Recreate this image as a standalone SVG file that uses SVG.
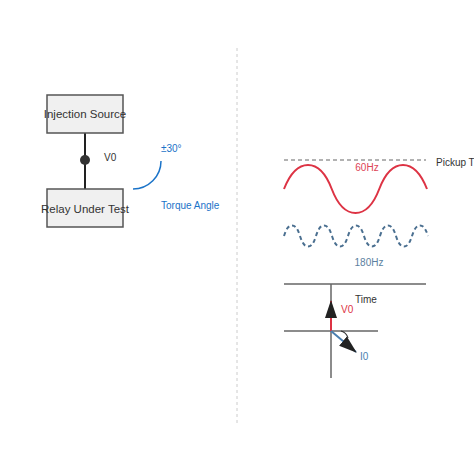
<svg xmlns="http://www.w3.org/2000/svg" width="474" height="474" viewBox="0 0 474 474">
<defs>
<style>
text{font-family:"Liberation Sans",Arial,sans-serif;}
.box{fill:#f0f0f0;stroke:#555;stroke-width:1.5;}
.lbl{font-size:11.5px;fill:#333;text-anchor:middle;}
.sm{font-size:10px;}
.ax{stroke:#666;stroke-width:1.5;fill:none;}
</style>
<marker id="ahb" markerWidth="18" markerHeight="12" refX="17" refY="6" orient="auto" markerUnits="userSpaceOnUse" viewBox="0 0 18 12">
<path d="M0,0 L18,6 L0,12 Z" fill="#222"/>
</marker>
</defs>
<rect width="474" height="474" fill="#fff"/>
<line x1="237" y1="48" x2="237" y2="426" stroke="#ccc" stroke-width="1" stroke-dasharray="3,3"/>
<g id="connectors">
<line x1="85" y1="133" x2="85" y2="189" stroke="#222" stroke-width="2"/>
<circle cx="85" cy="160" r="5" fill="#333"/>
<text x="104" y="161" class="sm" fill="#333">V0</text>
</g>
<g id="injection-source">
<rect x="47" y="95" width="76" height="38" class="box"/>
<text x="85" y="118" class="lbl">Injection Source</text>
</g>
<g id="relay-under-test">
<rect x="47" y="189" width="76" height="38" class="box"/>
<text x="85" y="213" class="lbl">Relay Under Test</text>
</g>
<g id="torque-angle">
<path d="M133,189 A28,28 0 0 0 161,161" fill="none" stroke="#1a73c8" stroke-width="1.5"/>
<text x="161" y="152" class="sm" fill="#1a73c8">±30°</text>
<text x="161" y="209" class="sm" fill="#1a73c8">Torque Angle</text>
</g>
<g id="waveforms">
<line x1="284" y1="160" x2="426" y2="160" stroke="#666" stroke-width="1.2" stroke-dasharray="4,3"/>
<text x="436" y="166" class="sm" fill="#333">Pickup Threshold</text>
<path d="M284,189 C291.5,170 300.5,165 308,165 C315.5,165 324.5,170 331.75,189 C339,208 348,213 355.5,213 C363,213 372,208 379.25,189 C386.5,170 395.5,165 403,165 C410.5,165 419.5,170 427,189" fill="none" stroke="#dd3344" stroke-width="2"/>
<text x="367" y="171" class="sm" fill="#dd4455" text-anchor="middle">60Hz</text>
<path d="M284,236 C286.5,228 289,225.5 292,225.5 C295,225.5 297.5,228 300,236 C302.5,244 305,246.5 308,246.5 C311,246.5 313.5,244 316,236 C318.5,228 321,225.5 324,225.5 C327,225.5 329.5,228 332,236 C334.5,244 337,246.5 340,246.5 C343,246.5 345.5,244 348,236 C350.5,228 353,225.5 356,225.5 C359,225.5 361.5,228 364,236 C366.5,244 369,246.5 372,246.5 C375,246.5 377.5,244 380,236 C382.5,228 385,225.5 388,225.5 C391,225.5 393.5,228 396,236 C398.5,244 401,246.5 404,246.5 C407,246.5 409.5,244 412,236 C414.5,228 417,225.5 420,225.5 C423,225.5 425.5,228 428,236" fill="none" stroke="#4a6f90" stroke-width="2" stroke-dasharray="4,3"/>
<text x="369" y="266" class="sm" fill="#5b7fa0" text-anchor="middle">180Hz</text>
</g>
<g id="phasor">
<line x1="284" y1="284" x2="426" y2="284" class="ax"/>
<line x1="331" y1="284" x2="331" y2="378" class="ax"/>
<line x1="284" y1="331" x2="378" y2="331" class="ax"/>
<line x1="331" y1="331" x2="331" y2="301" stroke="#dd3344" stroke-width="2" marker-end="url(#ahb)"/>
<line x1="331" y1="331" x2="356" y2="352" stroke="#4a7fb0" stroke-width="2" marker-end="url(#ahb)"/>
<path d="M341,331 A10,10 0 0 1 348,338" fill="none" stroke="#333" stroke-width="1.2"/>
<text x="341" y="313" class="sm" fill="#dd3344">V0</text>
<text x="355" y="303" class="sm" fill="#333">Time</text>
<text x="360" y="360" class="sm" fill="#4a7fb0">I0</text>
</g>
</svg>
